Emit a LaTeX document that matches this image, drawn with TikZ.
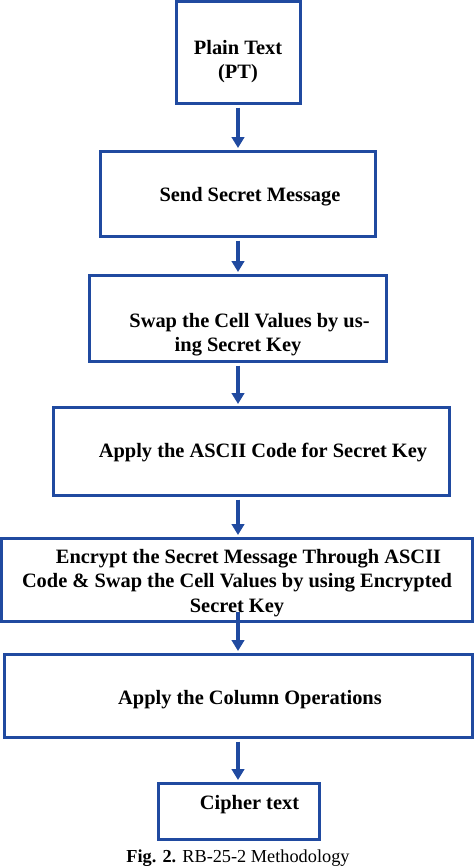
\documentclass[tikz,border=0pt]{standalone}
\usepackage{fontspec}
\setmainfont{Liberation Serif}
\usetikzlibrary{positioning,arrows.meta}
\definecolor{flowblue}{RGB}{32,74,160}
\begin{document}
\begin{tikzpicture}[x=1pt,y=1pt,
          stepbox/.style={draw=flowblue,line width=3pt,inner sep=0pt},
          steptxt/.style={inner sep=0pt,align=center,font=\fontsize{20.4}{24.5}\selectfont\bfseries},
          flow/.style={draw=flowblue,line width=4.5pt,-{Triangle[width=12.5pt,length=11pt]},
            shorten <=2.5pt,shorten >=2pt}
        ]
        \useasboundingbox (0,0) rectangle (474,-868);
        % boxes
        \node[stepbox,minimum width=124pt,minimum height=102pt,anchor=north] (plain) at (238,0) {};
        \node[stepbox,minimum width=275pt,minimum height=85pt,below=45pt of plain] (send) {};
        \node[stepbox,minimum width=297pt,minimum height=86pt,below=36pt of send] (swap) {};
        \node[stepbox,minimum width=396pt,minimum height=88pt,below=43pt of swap,xshift=13.5pt] (ascii) {};
        \node[stepbox,minimum width=471pt,minimum height=83pt,below=40pt of ascii,xshift=-14.5pt] (encrypt) {};
        \node[stepbox,minimum width=468pt,minimum height=83pt,below=30pt of encrypt,xshift=1.5pt] (column) {};
        \node[stepbox,minimum width=161pt,minimum height=56pt,below=43pt of column] (cipher) {};
        % texts
        \node[steptxt] (plain-txt) at ([yshift=-9pt]plain.center) {Plain Text\\(PT)};
        \node[steptxt] (send-txt) at ([xshift=12pt,yshift=-3pt]send.center) {Send Secret Message};
        \node[steptxt] (swap-txt) at ([yshift=-16pt]swap.center)
          {\hspace*{23pt}Swap the Cell Values by us-\\ing Secret Key};
        \node[steptxt] (ascii-txt) at ([xshift=11.5pt,yshift=-1.5pt]ascii.center)
          {Apply the ASCII Code for Secret Key};
        \node[steptxt] (encrypt-txt) at ([yshift=-3pt]encrypt.center)
          {\hspace*{23pt}Encrypt the Secret Message Through ASCII\\Code \& Swap the Cell Values by using Encrypted\\Secret Key};
        \node[steptxt] (column-txt) at ([xshift=11.5pt,yshift=-4pt]column.center)
          {Apply the Column Operations};
        \node[steptxt] (cipher-txt) at ([xshift=11pt,yshift=6.5pt]cipher.center) {Cipher text};
        % arrows
        \foreach \a/\b in {plain/send,send/swap,swap/ascii,ascii/encrypt,column/cipher}
          \draw[flow] (\a.south -| plain) -- (\b.north -| plain);
        \draw[flow,shorten <=-11pt] (encrypt.south -| plain) -- (column.north -| plain);
        % caption
        \node[font=\fontsize{18.3}{22}\selectfont,anchor=base] (caption) at (238,-862)
          {\textbf{Fig. 2.} RB-25-2 Methodology};
\end{tikzpicture}
\end{document}
